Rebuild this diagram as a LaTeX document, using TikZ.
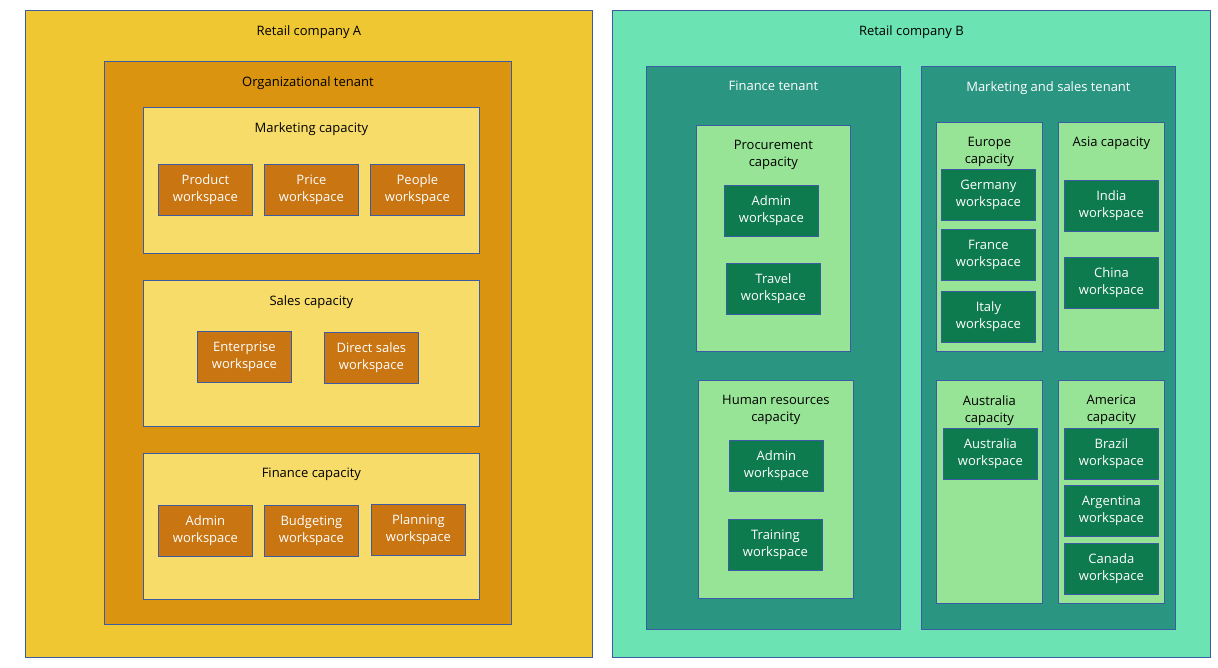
\documentclass[tikz,border=0pt]{standalone}
\usepackage{fontspec}
\setmainfont{Open Sans}
\definecolor{compA}{HTML}{EEC732}
\definecolor{tenA}{HTML}{DA940F}
\definecolor{capA}{HTML}{F8DC6A}
\definecolor{wsA}{HTML}{C87512}
\definecolor{compB}{HTML}{6BE3B3}
\definecolor{tenB}{HTML}{2A9580}
\definecolor{capB}{HTML}{98E496}
\definecolor{wsB}{HTML}{0E7B4E}
\definecolor{edge}{HTML}{3B5BA5}
\tikzset{
  pane/.style={draw=edge,line width=0.8pt,anchor=north west,inner sep=0pt},
  ttl/.style={anchor=north,align=center,font=\fontsize{13}{17}\selectfont,inner sep=0pt},
  wsp/.style={pane,text=white,align=center,font=\fontsize{13}{15}\selectfont}
}
\begin{document}
\begin{tikzpicture}[x=1pt,y=-1pt]
  \useasboundingbox (0,0) rectangle (1218,667);
  % helper macros
  \def\bx#1#2#3#4#5#6#7#8{%
    \node[pane,fill=#6,minimum width=#4,minimum height=#5] (#1) at (#2,#3) {};
    \node[ttl,text=#7] (#1-t) at ([yshift=-15]#1.north) {#8};}
  \def\ws#1#2#3#4#5#6{%
    \node[wsp,fill=#4,minimum width=94,minimum height=51] (#1) at (#2,#3) {};
    \node[text=white,align=center,font=\fontsize{13}{17}\selectfont] (#1-t) at (#1.center) {#5\\#6};}

  % company A
  \bx{compA}{25}{10}{567}{647}{compA}{black}{Retail company A}
  \bx{orgA}{104}{61}{407}{563}{tenA}{black}{Organizational tenant}
  \bx{mktA}{143}{107}{336}{146}{capA}{black}{Marketing capacity}
  \ws{prod}{158}{164}{wsA}{Product}{workspace}
  \ws{price}{264}{164}{wsA}{Price}{workspace}
  \ws{people}{370}{164}{wsA}{People}{workspace}
  \bx{salA}{143}{280}{336}{146}{capA}{black}{Sales capacity}
  \ws{ent}{197}{331}{wsA}{Enterprise}{workspace}
  \ws{direct}{324}{332}{wsA}{Direct sales}{workspace}
  \bx{finA}{143}{453}{336}{146}{capA}{black}{Finance capacity}
  \ws{adminA}{158}{505}{wsA}{Admin}{workspace}
  \ws{budget}{264}{505}{wsA}{Budgeting}{workspace}
  \ws{plan}{371}{504}{wsA}{Planning}{workspace}

  % company B
  \bx{compB}{612}{10}{598}{647}{compB}{black}{Retail company B}
  \bx{finB}{646}{66}{254}{563}{tenB}{white}{Finance tenant}
  \bx{proc}{696}{125}{154}{226}{capB}{black}{Procurement\\capacity}
  \ws{adminP}{724}{185}{wsB}{Admin}{workspace}
  \ws{travel}{726}{263}{wsB}{Travel}{workspace}
  \bx{hr}{698}{380}{155}{218}{capB}{black}{Human resources\\capacity}
  \ws{adminH}{729}{440}{wsB}{Admin}{workspace}
  \ws{train}{728}{519}{wsB}{Training}{workspace}

  \bx{msB}{921}{66}{254}{563}{tenB}{white}{Marketing and sales tenant}
  \bx{eur}{936}{122}{106}{229}{capB}{black}{Europe\\capacity}
  \ws{ger}{941}{169}{wsB}{Germany}{workspace}
  \ws{fra}{941}{229}{wsB}{France}{workspace}
  \ws{ita}{941}{291}{wsB}{Italy}{workspace}
  \bx{asia}{1058}{122}{106}{229}{capB}{black}{Asia capacity}
  \ws{ind}{1064}{180}{wsB}{India}{workspace}
  \ws{chn}{1064}{257}{wsB}{China}{workspace}
  \bx{aus}{936}{380}{106}{223}{capB}{black}{Australia\\capacity}
  \ws{ausw}{943}{428}{wsB}{Australia}{workspace}
  \bx{ame}{1058}{380}{106}{223}{capB}{black}{America\\capacity}
  \ws{bra}{1064}{428}{wsB}{Brazil}{workspace}
  \ws{arg}{1064}{485}{wsB}{Argentina}{workspace}
  \ws{can}{1064}{543}{wsB}{Canada}{workspace}
\end{tikzpicture}
\end{document}
